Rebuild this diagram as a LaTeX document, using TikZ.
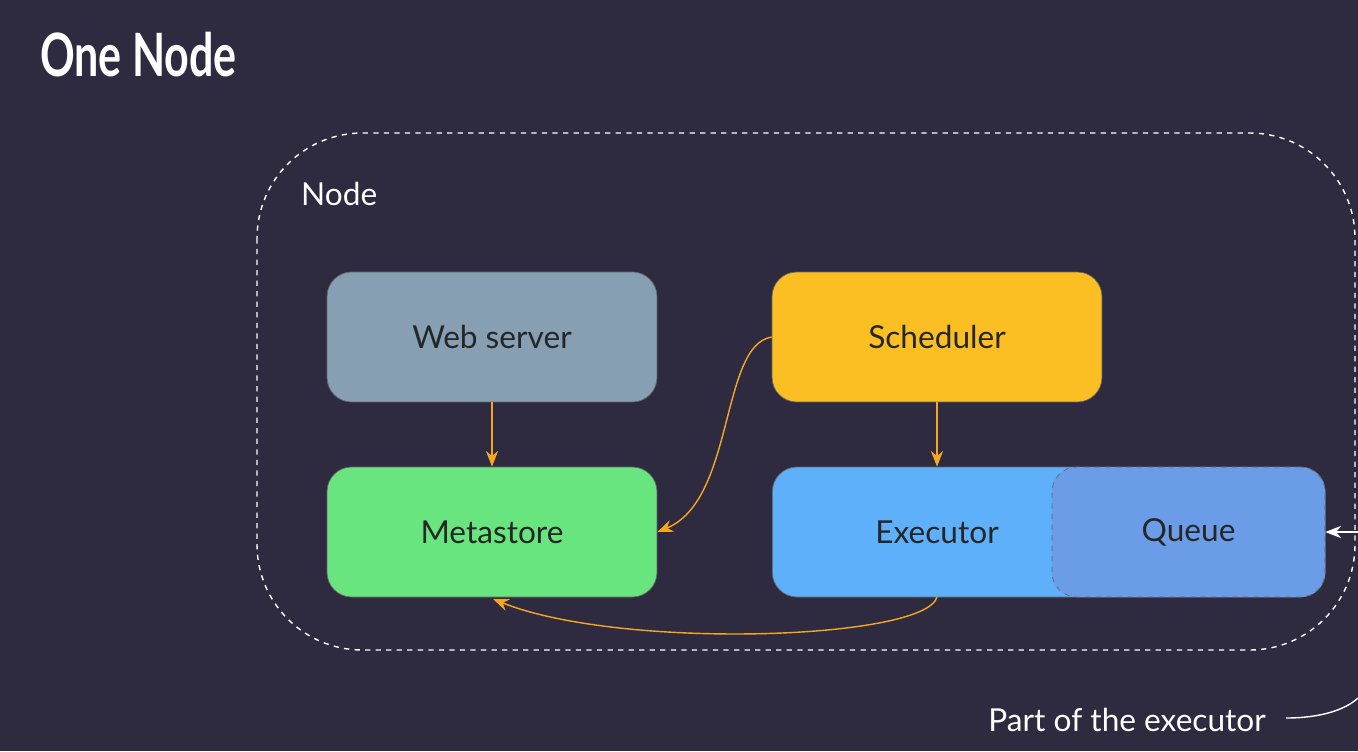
\documentclass[tikz,border=0pt]{standalone}
\usepackage{fontspec}
\setmainfont{Lato}
\usetikzlibrary{arrows.meta}
\definecolor{bgcol}{HTML}{2E2B40}
\definecolor{webcol}{HTML}{869FB3}
\definecolor{schedcol}{HTML}{FBBF24}
\definecolor{metacol}{HTML}{68E57F}
\definecolor{execcol}{HTML}{5EB0FA}
\definecolor{queuecol}{HTML}{6A9CE8}
\definecolor{flowcol}{HTML}{F5A623}
\tikzset{
  box/.style={draw=black!60, rounded corners=14pt, minimum width=6.6cm,
    minimum height=2.6cm, font=\fontsize{18}{22}\selectfont, text=black!85},
  flow/.style={flowcol, thick, -{Stealth[length=9pt,width=7pt]}},
}
\begin{document}
\begin{tikzpicture}[x=0.02cm, y=-0.02cm]
  \fill[bgcol] (0,0) rectangle (1358,751);
  \useasboundingbox (0,0) rectangle (1358,751);

  \node[anchor=west, white, font=\fontsize{34}{38}\bfseries] (title) at (34,55) {\scalebox{0.72}[1]{One Node}};

  % Rahmen
  \draw[white, thick, dashed, rounded corners=60pt] (257,133) rectangle (1355,650);
  \node[anchor=west, white, font=\fontsize{18}{22}\selectfont] (nodelbl) at (295,194) {Node};

  \node[box, fill=webcol] (web) at (492,337) {Web server};
  \node[box, fill=schedcol] (sched) at (937,337) {Scheduler};
  \node[box, fill=metacol] (meta) at (492,532) {Metastore};
  \node[box, fill=execcol, minimum width=11.06cm, anchor=west] (exec) at (772,532) {};
  \node[font=\fontsize{18}{22}\selectfont, text=black!85] (execlbl) at (937,532) {Executor};
  \node[box, fill=queuecol, dashed, minimum width=5.46cm] (queue) at (1188.5,532) {Queue};

  \draw[flow] (web) -- (meta);
  \draw[flow] (sched.south) -- (sched.south |- exec.north);
  \draw[flow] (sched.west) .. controls (720,345) and (735,500) .. (meta.east);
  \draw[flow] (937,597) .. controls (925,640) and (620,650) .. (493,599);

  % Hinweis
  \node[anchor=east, white, font=\fontsize{18}{22}\selectfont] (hint) at (1272,720) {Part of the executor};
  \coordinate (edgeA) at (1358,698);
  \coordinate (edgeB) at (1358,532);
  \draw[white, thick] (hint.east) ++(14,-2) .. controls (1320,718) and (1345,710) .. (edgeA);
  \draw[white, thick, -{Stealth[length=9pt,width=7pt]}] (edgeB) -- (queue.east);
\end{tikzpicture}
\end{document}
